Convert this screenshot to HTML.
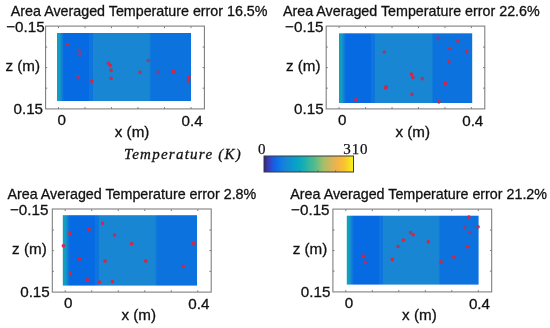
<!DOCTYPE html>
<html><head><meta charset="utf-8"><style>
html,body{margin:0;padding:0;background:#fff;width:550px;height:328px;overflow:hidden}
svg{display:block;filter:blur(0.3px)}
.t{font-family:"Liberation Sans",Arial,sans-serif;font-size:14.3px;fill:#111;stroke:#111;stroke-width:0.3px}
.l{font-family:"Liberation Sans",Arial,sans-serif;font-size:15.2px;fill:#111;stroke:#111;stroke-width:0.3px}
.c{font-family:"Liberation Serif","Times New Roman",serif;font-size:15px;fill:#111;stroke:#111;stroke-width:0.25px}
.d{font-family:"Liberation Serif",serif;font-style:italic;font-size:15px;letter-spacing:1.25px;fill:#111;stroke:#111;stroke-width:0.3px}
.i{font-style:italic}
</style></head><body>
<svg width="550" height="328" viewBox="0 0 550 328">
<defs><linearGradient id="g0" x1="0" x2="1" y1="0" y2="0"><stop offset="0.0000" stop-color="rgb(15,160,192)"/><stop offset="0.0179" stop-color="rgb(15,160,192)"/><stop offset="0.0284" stop-color="rgb(20,140,205)"/><stop offset="0.0410" stop-color="rgb(16,122,217)"/><stop offset="0.0522" stop-color="rgb(6,106,226)"/><stop offset="0.2366" stop-color="rgb(6,106,226)"/><stop offset="0.2410" stop-color="rgb(14,116,222)"/><stop offset="0.2672" stop-color="rgb(14,116,222)"/><stop offset="0.2724" stop-color="rgb(25,134,211)"/><stop offset="0.6866" stop-color="rgb(25,134,211)"/><stop offset="0.7015" stop-color="rgb(12,115,222)"/><stop offset="1.0000" stop-color="rgb(12,115,222)"/></linearGradient>
<linearGradient id="g1" x1="0" x2="1" y1="0" y2="0"><stop offset="0.0000" stop-color="rgb(15,160,192)"/><stop offset="0.0180" stop-color="rgb(15,160,192)"/><stop offset="0.0285" stop-color="rgb(20,140,205)"/><stop offset="0.0413" stop-color="rgb(16,122,217)"/><stop offset="0.0526" stop-color="rgb(6,106,226)"/><stop offset="0.2380" stop-color="rgb(6,106,226)"/><stop offset="0.2425" stop-color="rgb(14,116,222)"/><stop offset="0.2688" stop-color="rgb(14,116,222)"/><stop offset="0.2740" stop-color="rgb(25,134,211)"/><stop offset="0.6937" stop-color="rgb(25,134,211)"/><stop offset="0.7087" stop-color="rgb(12,115,222)"/><stop offset="1.0000" stop-color="rgb(12,115,222)"/></linearGradient>
<linearGradient id="g2" x1="0" x2="1" y1="0" y2="0"><stop offset="0.0000" stop-color="rgb(15,160,192)"/><stop offset="0.0179" stop-color="rgb(15,160,192)"/><stop offset="0.0283" stop-color="rgb(20,140,205)"/><stop offset="0.0410" stop-color="rgb(16,122,217)"/><stop offset="0.0522" stop-color="rgb(6,106,226)"/><stop offset="0.2362" stop-color="rgb(6,106,226)"/><stop offset="0.2407" stop-color="rgb(14,116,222)"/><stop offset="0.2668" stop-color="rgb(14,116,222)"/><stop offset="0.2720" stop-color="rgb(25,134,211)"/><stop offset="0.6870" stop-color="rgb(25,134,211)"/><stop offset="0.7019" stop-color="rgb(12,115,222)"/><stop offset="1.0000" stop-color="rgb(12,115,222)"/></linearGradient>
<linearGradient id="g3" x1="0" x2="1" y1="0" y2="0"><stop offset="0.0000" stop-color="rgb(15,160,192)"/><stop offset="0.0182" stop-color="rgb(15,160,192)"/><stop offset="0.0288" stop-color="rgb(20,140,205)"/><stop offset="0.0417" stop-color="rgb(16,122,217)"/><stop offset="0.0531" stop-color="rgb(6,106,226)"/><stop offset="0.2405" stop-color="rgb(6,106,226)"/><stop offset="0.2451" stop-color="rgb(14,116,222)"/><stop offset="0.2716" stop-color="rgb(14,116,222)"/><stop offset="0.2769" stop-color="rgb(25,134,211)"/><stop offset="0.6942" stop-color="rgb(25,134,211)"/><stop offset="0.7094" stop-color="rgb(12,115,222)"/><stop offset="1.0000" stop-color="rgb(12,115,222)"/></linearGradient>
<linearGradient id="cb" x1="0" x2="1" y1="0" y2="0"><stop offset="0.0000" stop-color="rgb(40,28,140)"/><stop offset="0.0300" stop-color="rgb(58,52,160)"/><stop offset="0.0700" stop-color="rgb(50,70,200)"/><stop offset="0.1100" stop-color="rgb(22,95,225)"/><stop offset="0.1500" stop-color="rgb(10,112,232)"/><stop offset="0.2000" stop-color="rgb(20,125,222)"/><stop offset="0.2700" stop-color="rgb(20,140,210)"/><stop offset="0.3250" stop-color="rgb(10,155,205)"/><stop offset="0.3800" stop-color="rgb(10,165,195)"/><stop offset="0.4400" stop-color="rgb(20,175,182)"/><stop offset="0.4900" stop-color="rgb(50,180,160)"/><stop offset="0.5500" stop-color="rgb(75,185,145)"/><stop offset="0.6070" stop-color="rgb(115,190,125)"/><stop offset="0.6600" stop-color="rgb(162,190,108)"/><stop offset="0.7200" stop-color="rgb(195,185,95)"/><stop offset="0.7760" stop-color="rgb(225,180,85)"/><stop offset="0.8300" stop-color="rgb(245,180,70)"/><stop offset="0.8900" stop-color="rgb(250,192,50)"/><stop offset="0.9400" stop-color="rgb(246,215,40)"/><stop offset="1.0000" stop-color="rgb(250,245,20)"/></linearGradient></defs>
<rect x="57.00" y="33.00" width="134.00" height="68.00" fill="url(#g0)"/>
<circle cx="67.2" cy="44.5" r="1.15" fill="none" stroke="#dc2240" stroke-width="1.35"/>
<circle cx="78.7" cy="50.5" r="1.15" fill="none" stroke="#dc2240" stroke-width="1.35"/>
<circle cx="80.2" cy="54.4" r="1.15" fill="none" stroke="#dc2240" stroke-width="1.35"/>
<circle cx="108.4" cy="63.2" r="1.15" fill="none" stroke="#dc2240" stroke-width="1.35"/>
<circle cx="110.3" cy="65.3" r="1.15" fill="none" stroke="#dc2240" stroke-width="1.35"/>
<circle cx="111.1" cy="70.4" r="1.15" fill="none" stroke="#dc2240" stroke-width="1.35"/>
<circle cx="78.2" cy="76.9" r="1.15" fill="none" stroke="#dc2240" stroke-width="1.35"/>
<circle cx="91.9" cy="81.3" r="1.15" fill="none" stroke="#dc2240" stroke-width="1.35"/>
<circle cx="111.1" cy="78.3" r="1.15" fill="none" stroke="#dc2240" stroke-width="1.35"/>
<circle cx="148.4" cy="60.5" r="1.15" fill="none" stroke="#dc2240" stroke-width="1.35"/>
<circle cx="140.1" cy="72.3" r="1.15" fill="none" stroke="#dc2240" stroke-width="1.35"/>
<circle cx="158.3" cy="72.3" r="1.15" fill="none" stroke="#dc2240" stroke-width="1.35"/>
<circle cx="173.4" cy="71.7" r="1.15" fill="none" stroke="#dc2240" stroke-width="1.35"/>
<circle cx="189.0" cy="77.3" r="1.15" fill="none" stroke="#dc2240" stroke-width="1.35"/>
<circle cx="188.4" cy="80.9" r="1.15" fill="none" stroke="#dc2240" stroke-width="1.35"/>
<rect x="45.60" y="26.10" width="158.80" height="82.80" fill="none" stroke="#7a7a7a" stroke-width="1.05"/>
<line x1="58.50" y1="108.70" x2="58.50" y2="107.10" stroke="#5a5a5a" stroke-width="0.8"/>
<line x1="58.50" y1="26.50" x2="58.50" y2="28.10" stroke="#5a5a5a" stroke-width="0.8"/>
<line x1="85.00" y1="108.70" x2="85.00" y2="107.10" stroke="#5a5a5a" stroke-width="0.8"/>
<line x1="85.00" y1="26.50" x2="85.00" y2="28.10" stroke="#5a5a5a" stroke-width="0.8"/>
<line x1="111.50" y1="108.70" x2="111.50" y2="107.10" stroke="#5a5a5a" stroke-width="0.8"/>
<line x1="111.50" y1="26.50" x2="111.50" y2="28.10" stroke="#5a5a5a" stroke-width="0.8"/>
<line x1="138.00" y1="108.70" x2="138.00" y2="107.10" stroke="#5a5a5a" stroke-width="0.8"/>
<line x1="138.00" y1="26.50" x2="138.00" y2="28.10" stroke="#5a5a5a" stroke-width="0.8"/>
<line x1="164.50" y1="108.70" x2="164.50" y2="107.10" stroke="#5a5a5a" stroke-width="0.8"/>
<line x1="164.50" y1="26.50" x2="164.50" y2="28.10" stroke="#5a5a5a" stroke-width="0.8"/>
<line x1="191.00" y1="108.70" x2="191.00" y2="107.10" stroke="#5a5a5a" stroke-width="0.8"/>
<line x1="191.00" y1="26.50" x2="191.00" y2="28.10" stroke="#5a5a5a" stroke-width="0.8"/>
<line x1="45.60" y1="47.05" x2="47.20" y2="47.05" stroke="#5a5a5a" stroke-width="0.8"/>
<line x1="204.20" y1="47.05" x2="202.60" y2="47.05" stroke="#5a5a5a" stroke-width="0.8"/>
<line x1="45.60" y1="67.60" x2="47.20" y2="67.60" stroke="#5a5a5a" stroke-width="0.8"/>
<line x1="204.20" y1="67.60" x2="202.60" y2="67.60" stroke="#5a5a5a" stroke-width="0.8"/>
<line x1="45.60" y1="88.15" x2="47.20" y2="88.15" stroke="#5a5a5a" stroke-width="0.8"/>
<line x1="204.20" y1="88.15" x2="202.60" y2="88.15" stroke="#5a5a5a" stroke-width="0.8"/>
<text transform="translate(10.80 16.00) scale(1 0.96)" class="t">Area Averaged Temperature error 16.5%</text>
<text transform="translate(6.20 31.80) scale(1 1.01)" class="l">−0.15</text>
<text transform="translate(5.40 71.40) scale(1 1.01)" class="l">z (m)</text>
<text transform="translate(13.50 113.90) scale(1 1.01)" class="l">0.15</text>
<text transform="translate(57.40 125.45) scale(1 1.01)" class="l">0</text>
<text transform="translate(181.60 126.30) scale(1 1.01)" class="l">0.4</text>
<text transform="translate(114.80 136.60) scale(1 1.01)" class="l">x (m)</text>
<rect x="339.00" y="33.30" width="133.20" height="69.70" fill="url(#g1)"/>
<circle cx="384.3" cy="52.2" r="1.15" fill="none" stroke="#dc2240" stroke-width="1.35"/>
<circle cx="386.2" cy="86.8" r="1.15" fill="none" stroke="#dc2240" stroke-width="1.35"/>
<circle cx="385.6" cy="88.0" r="1.15" fill="none" stroke="#dc2240" stroke-width="1.35"/>
<circle cx="355.9" cy="99.8" r="1.15" fill="none" stroke="#dc2240" stroke-width="1.35"/>
<circle cx="438.4" cy="38.4" r="1.15" fill="none" stroke="#dc2240" stroke-width="1.35"/>
<circle cx="458.0" cy="40.9" r="1.15" fill="none" stroke="#dc2240" stroke-width="1.35"/>
<circle cx="449.9" cy="48.6" r="1.15" fill="none" stroke="#dc2240" stroke-width="1.35"/>
<circle cx="466.7" cy="51.3" r="1.15" fill="none" stroke="#dc2240" stroke-width="1.35"/>
<circle cx="448.8" cy="61.9" r="1.15" fill="none" stroke="#dc2240" stroke-width="1.35"/>
<circle cx="411.4" cy="74.2" r="1.15" fill="none" stroke="#dc2240" stroke-width="1.35"/>
<circle cx="412.9" cy="77.5" r="1.15" fill="none" stroke="#dc2240" stroke-width="1.35"/>
<circle cx="422.3" cy="78.7" r="1.15" fill="none" stroke="#dc2240" stroke-width="1.35"/>
<circle cx="445.3" cy="83.4" r="1.15" fill="none" stroke="#dc2240" stroke-width="1.35"/>
<circle cx="412.0" cy="94.4" r="1.15" fill="none" stroke="#dc2240" stroke-width="1.35"/>
<circle cx="438.9" cy="101.9" r="1.15" fill="none" stroke="#dc2240" stroke-width="1.35"/>
<rect x="326.20" y="26.10" width="158.60" height="82.80" fill="none" stroke="#7a7a7a" stroke-width="1.05"/>
<line x1="339.10" y1="108.70" x2="339.10" y2="107.10" stroke="#5a5a5a" stroke-width="0.8"/>
<line x1="339.10" y1="26.50" x2="339.10" y2="28.10" stroke="#5a5a5a" stroke-width="0.8"/>
<line x1="365.56" y1="108.70" x2="365.56" y2="107.10" stroke="#5a5a5a" stroke-width="0.8"/>
<line x1="365.56" y1="26.50" x2="365.56" y2="28.10" stroke="#5a5a5a" stroke-width="0.8"/>
<line x1="392.02" y1="108.70" x2="392.02" y2="107.10" stroke="#5a5a5a" stroke-width="0.8"/>
<line x1="392.02" y1="26.50" x2="392.02" y2="28.10" stroke="#5a5a5a" stroke-width="0.8"/>
<line x1="418.48" y1="108.70" x2="418.48" y2="107.10" stroke="#5a5a5a" stroke-width="0.8"/>
<line x1="418.48" y1="26.50" x2="418.48" y2="28.10" stroke="#5a5a5a" stroke-width="0.8"/>
<line x1="444.94" y1="108.70" x2="444.94" y2="107.10" stroke="#5a5a5a" stroke-width="0.8"/>
<line x1="444.94" y1="26.50" x2="444.94" y2="28.10" stroke="#5a5a5a" stroke-width="0.8"/>
<line x1="471.40" y1="108.70" x2="471.40" y2="107.10" stroke="#5a5a5a" stroke-width="0.8"/>
<line x1="471.40" y1="26.50" x2="471.40" y2="28.10" stroke="#5a5a5a" stroke-width="0.8"/>
<line x1="326.20" y1="47.05" x2="327.80" y2="47.05" stroke="#5a5a5a" stroke-width="0.8"/>
<line x1="484.60" y1="47.05" x2="483.00" y2="47.05" stroke="#5a5a5a" stroke-width="0.8"/>
<line x1="326.20" y1="67.60" x2="327.80" y2="67.60" stroke="#5a5a5a" stroke-width="0.8"/>
<line x1="484.60" y1="67.60" x2="483.00" y2="67.60" stroke="#5a5a5a" stroke-width="0.8"/>
<line x1="326.20" y1="88.15" x2="327.80" y2="88.15" stroke="#5a5a5a" stroke-width="0.8"/>
<line x1="484.60" y1="88.15" x2="483.00" y2="88.15" stroke="#5a5a5a" stroke-width="0.8"/>
<text transform="translate(283.00 15.90) scale(1 0.96)" class="t">Area Averaged Temperature error 22.6%</text>
<text transform="translate(285.10 31.80) scale(1 1.01)" class="l">−0.15</text>
<text transform="translate(286.00 71.40) scale(1 1.01)" class="l">z (m)</text>
<text transform="translate(294.10 113.90) scale(1 1.01)" class="l">0.15</text>
<text transform="translate(338.00 125.45) scale(1 1.01)" class="l">0</text>
<text transform="translate(462.20 126.30) scale(1 1.01)" class="l">0.4</text>
<text transform="translate(395.40 136.60) scale(1 1.01)" class="l">x (m)</text>
<rect x="62.80" y="215.20" width="134.20" height="70.40" fill="url(#g2)"/>
<circle cx="63.4" cy="245.8" r="1.15" fill="none" stroke="#dc2240" stroke-width="1.35"/>
<circle cx="69.8" cy="233.5" r="1.15" fill="none" stroke="#dc2240" stroke-width="1.35"/>
<circle cx="89.1" cy="229.3" r="1.15" fill="none" stroke="#dc2240" stroke-width="1.35"/>
<circle cx="102.6" cy="223.2" r="1.15" fill="none" stroke="#dc2240" stroke-width="1.35"/>
<circle cx="114.6" cy="235.0" r="1.15" fill="none" stroke="#dc2240" stroke-width="1.35"/>
<circle cx="79.5" cy="259.0" r="1.15" fill="none" stroke="#dc2240" stroke-width="1.35"/>
<circle cx="105.1" cy="261.1" r="1.15" fill="none" stroke="#dc2240" stroke-width="1.35"/>
<circle cx="70.4" cy="273.3" r="1.15" fill="none" stroke="#dc2240" stroke-width="1.35"/>
<circle cx="87.4" cy="279.7" r="1.15" fill="none" stroke="#dc2240" stroke-width="1.35"/>
<circle cx="99.6" cy="282.1" r="1.15" fill="none" stroke="#dc2240" stroke-width="1.35"/>
<circle cx="112.4" cy="281.5" r="1.15" fill="none" stroke="#dc2240" stroke-width="1.35"/>
<circle cx="131.6" cy="243.7" r="1.15" fill="none" stroke="#dc2240" stroke-width="1.35"/>
<circle cx="193.4" cy="243.3" r="1.15" fill="none" stroke="#dc2240" stroke-width="1.35"/>
<circle cx="145.8" cy="261.1" r="1.15" fill="none" stroke="#dc2240" stroke-width="1.35"/>
<circle cx="183.3" cy="266.3" r="1.15" fill="none" stroke="#dc2240" stroke-width="1.35"/>
<rect x="52.30" y="209.00" width="158.90" height="83.10" fill="none" stroke="#7a7a7a" stroke-width="1.05"/>
<line x1="65.20" y1="291.90" x2="65.20" y2="290.30" stroke="#5a5a5a" stroke-width="0.8"/>
<line x1="65.20" y1="209.40" x2="65.20" y2="211.00" stroke="#5a5a5a" stroke-width="0.8"/>
<line x1="91.72" y1="291.90" x2="91.72" y2="290.30" stroke="#5a5a5a" stroke-width="0.8"/>
<line x1="91.72" y1="209.40" x2="91.72" y2="211.00" stroke="#5a5a5a" stroke-width="0.8"/>
<line x1="118.24" y1="291.90" x2="118.24" y2="290.30" stroke="#5a5a5a" stroke-width="0.8"/>
<line x1="118.24" y1="209.40" x2="118.24" y2="211.00" stroke="#5a5a5a" stroke-width="0.8"/>
<line x1="144.76" y1="291.90" x2="144.76" y2="290.30" stroke="#5a5a5a" stroke-width="0.8"/>
<line x1="144.76" y1="209.40" x2="144.76" y2="211.00" stroke="#5a5a5a" stroke-width="0.8"/>
<line x1="171.28" y1="291.90" x2="171.28" y2="290.30" stroke="#5a5a5a" stroke-width="0.8"/>
<line x1="171.28" y1="209.40" x2="171.28" y2="211.00" stroke="#5a5a5a" stroke-width="0.8"/>
<line x1="197.80" y1="291.90" x2="197.80" y2="290.30" stroke="#5a5a5a" stroke-width="0.8"/>
<line x1="197.80" y1="209.40" x2="197.80" y2="211.00" stroke="#5a5a5a" stroke-width="0.8"/>
<line x1="52.30" y1="230.03" x2="53.90" y2="230.03" stroke="#5a5a5a" stroke-width="0.8"/>
<line x1="211.00" y1="230.03" x2="209.40" y2="230.03" stroke="#5a5a5a" stroke-width="0.8"/>
<line x1="52.30" y1="250.65" x2="53.90" y2="250.65" stroke="#5a5a5a" stroke-width="0.8"/>
<line x1="211.00" y1="250.65" x2="209.40" y2="250.65" stroke="#5a5a5a" stroke-width="0.8"/>
<line x1="52.30" y1="271.27" x2="53.90" y2="271.27" stroke="#5a5a5a" stroke-width="0.8"/>
<line x1="211.00" y1="271.27" x2="209.40" y2="271.27" stroke="#5a5a5a" stroke-width="0.8"/>
<text transform="translate(7.50 199.10) scale(1 0.96)" class="t">Area Averaged Temperature error 2.8%</text>
<text transform="translate(9.90 215.30) scale(1 1.01)" class="l">−0.15</text>
<text transform="translate(12.10 254.30) scale(1 1.01)" class="l">z (m)</text>
<text transform="translate(20.20 296.80) scale(1 1.01)" class="l">0.15</text>
<text transform="translate(64.10 308.35) scale(1 1.01)" class="l">0</text>
<text transform="translate(188.30 309.20) scale(1 1.01)" class="l">0.4</text>
<text transform="translate(121.50 319.50) scale(1 1.01)" class="l">x (m)</text>
<rect x="346.80" y="215.70" width="131.80" height="68.90" fill="url(#g3)"/>
<circle cx="410.6" cy="232.6" r="1.15" fill="none" stroke="#dc2240" stroke-width="1.35"/>
<circle cx="413.2" cy="234.7" r="1.15" fill="none" stroke="#dc2240" stroke-width="1.35"/>
<circle cx="403.5" cy="240.1" r="1.15" fill="none" stroke="#dc2240" stroke-width="1.35"/>
<circle cx="398.1" cy="246.5" r="1.15" fill="none" stroke="#dc2240" stroke-width="1.35"/>
<circle cx="363.4" cy="256.0" r="1.15" fill="none" stroke="#dc2240" stroke-width="1.35"/>
<circle cx="365.0" cy="262.4" r="1.15" fill="none" stroke="#dc2240" stroke-width="1.35"/>
<circle cx="392.2" cy="259.6" r="1.15" fill="none" stroke="#dc2240" stroke-width="1.35"/>
<circle cx="468.9" cy="217.1" r="1.15" fill="none" stroke="#dc2240" stroke-width="1.35"/>
<circle cx="464.6" cy="226.8" r="1.15" fill="none" stroke="#dc2240" stroke-width="1.35"/>
<circle cx="478.1" cy="226.8" r="1.15" fill="none" stroke="#dc2240" stroke-width="1.35"/>
<circle cx="470.1" cy="232.5" r="1.15" fill="none" stroke="#dc2240" stroke-width="1.35"/>
<circle cx="428.3" cy="241.7" r="1.15" fill="none" stroke="#dc2240" stroke-width="1.35"/>
<circle cx="467.5" cy="246.8" r="1.15" fill="none" stroke="#dc2240" stroke-width="1.35"/>
<circle cx="453.8" cy="257.0" r="1.15" fill="none" stroke="#dc2240" stroke-width="1.35"/>
<circle cx="441.0" cy="261.9" r="1.15" fill="none" stroke="#dc2240" stroke-width="1.35"/>
<rect x="332.90" y="209.10" width="158.80" height="82.80" fill="none" stroke="#7a7a7a" stroke-width="1.05"/>
<line x1="345.80" y1="291.70" x2="345.80" y2="290.10" stroke="#5a5a5a" stroke-width="0.8"/>
<line x1="345.80" y1="209.50" x2="345.80" y2="211.10" stroke="#5a5a5a" stroke-width="0.8"/>
<line x1="372.30" y1="291.70" x2="372.30" y2="290.10" stroke="#5a5a5a" stroke-width="0.8"/>
<line x1="372.30" y1="209.50" x2="372.30" y2="211.10" stroke="#5a5a5a" stroke-width="0.8"/>
<line x1="398.80" y1="291.70" x2="398.80" y2="290.10" stroke="#5a5a5a" stroke-width="0.8"/>
<line x1="398.80" y1="209.50" x2="398.80" y2="211.10" stroke="#5a5a5a" stroke-width="0.8"/>
<line x1="425.30" y1="291.70" x2="425.30" y2="290.10" stroke="#5a5a5a" stroke-width="0.8"/>
<line x1="425.30" y1="209.50" x2="425.30" y2="211.10" stroke="#5a5a5a" stroke-width="0.8"/>
<line x1="451.80" y1="291.70" x2="451.80" y2="290.10" stroke="#5a5a5a" stroke-width="0.8"/>
<line x1="451.80" y1="209.50" x2="451.80" y2="211.10" stroke="#5a5a5a" stroke-width="0.8"/>
<line x1="478.30" y1="291.70" x2="478.30" y2="290.10" stroke="#5a5a5a" stroke-width="0.8"/>
<line x1="478.30" y1="209.50" x2="478.30" y2="211.10" stroke="#5a5a5a" stroke-width="0.8"/>
<line x1="332.90" y1="230.05" x2="334.50" y2="230.05" stroke="#5a5a5a" stroke-width="0.8"/>
<line x1="491.50" y1="230.05" x2="489.90" y2="230.05" stroke="#5a5a5a" stroke-width="0.8"/>
<line x1="332.90" y1="250.60" x2="334.50" y2="250.60" stroke="#5a5a5a" stroke-width="0.8"/>
<line x1="491.50" y1="250.60" x2="489.90" y2="250.60" stroke="#5a5a5a" stroke-width="0.8"/>
<line x1="332.90" y1="271.15" x2="334.50" y2="271.15" stroke="#5a5a5a" stroke-width="0.8"/>
<line x1="491.50" y1="271.15" x2="489.90" y2="271.15" stroke="#5a5a5a" stroke-width="0.8"/>
<text transform="translate(290.30 199.10) scale(1 0.96)" class="t">Area Averaged Temperature error 21.2%</text>
<text transform="translate(291.10 215.15) scale(1 1.01)" class="l">−0.15</text>
<text transform="translate(292.70 254.40) scale(1 1.01)" class="l">z (m)</text>
<text transform="translate(300.80 296.90) scale(1 1.01)" class="l">0.15</text>
<text transform="translate(344.70 308.45) scale(1 1.01)" class="l">0</text>
<text transform="translate(468.90 309.30) scale(1 1.01)" class="l">0.4</text>
<text transform="translate(402.10 319.60) scale(1 1.01)" class="l">x (m)</text>
<rect x="264.00" y="156.00" width="89.50" height="16.00" fill="url(#cb)" stroke="#3a3a3a" stroke-width="1"/>
<line x1="281.90" y1="172.00" x2="281.90" y2="170.50" stroke="#4a4a4a" stroke-width="0.8"/>
<line x1="299.80" y1="172.00" x2="299.80" y2="170.50" stroke="#4a4a4a" stroke-width="0.8"/>
<line x1="317.70" y1="172.00" x2="317.70" y2="170.50" stroke="#4a4a4a" stroke-width="0.8"/>
<line x1="335.60" y1="172.00" x2="335.60" y2="170.50" stroke="#4a4a4a" stroke-width="0.8"/>
<text x="258.0" y="154.1" class="c">0</text>
<text x="343.3" y="154.1" class="c" letter-spacing="0.9">310</text>
<text x="124" y="158.6" class="d">Temperature (K)</text>
</svg>
</body></html>
